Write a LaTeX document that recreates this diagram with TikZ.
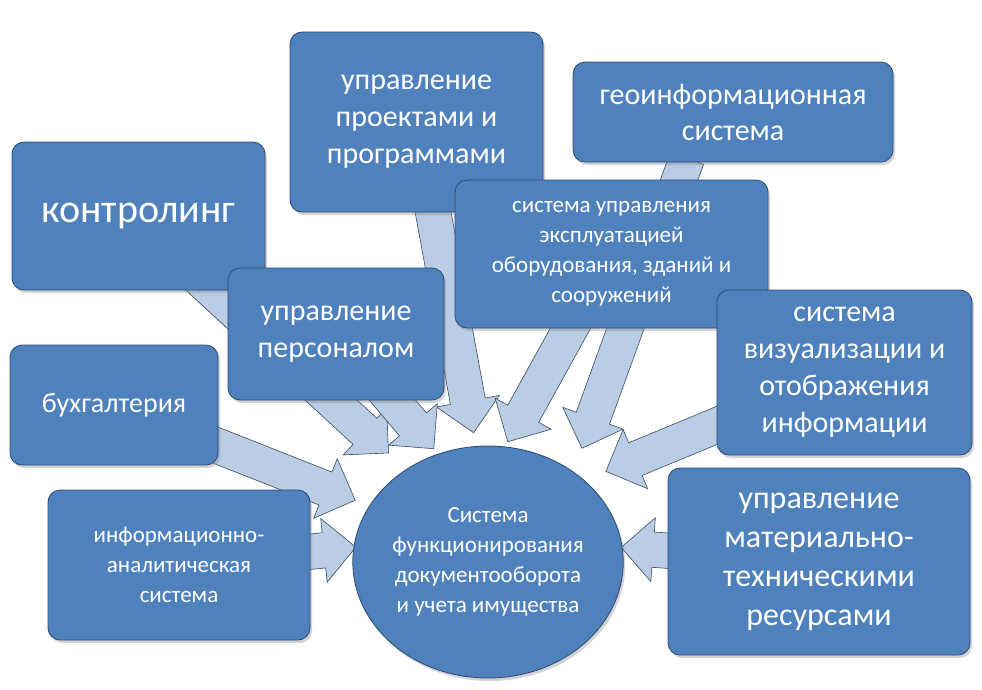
\documentclass[tikz,border=0pt]{standalone}
\usepackage{fontspec}
\setmainfont{Carlito}
\usetikzlibrary{shapes.arrows,shapes.geometric,shadows,calc}
\definecolor{boxblue}{HTML}{4F81BD}
\definecolor{boxedge}{HTML}{2C4A70}
\definecolor{arrfill}{HTML}{B9CDE5}
\definecolor{arredge}{HTML}{3A4A5E}
\pgfdeclarelayer{bg}
\pgfsetlayers{bg,main}
\tikzset{
 box/.style={rounded corners=12pt,draw=boxedge,line width=0.8pt,fill=boxblue,text=white,align=center,drop shadow={shadow xshift=2pt,shadow yshift=-3pt,opacity=0.35},inner sep=0pt},
 blockarr/.style={single arrow,draw=arredge,line width=0.6pt,fill=arrfill,minimum width=64pt,single arrow head extend=14pt,single arrow head indent=0pt,inner xsep=0pt,inner ysep=17pt,shape border uses incircle=false}
}
\newcommand\barrow[3]{\path let \p1=(#1), \p2=(#2), \n1={atan2(\y2-\y1,\x2-\x1)}, \n2={veclen(\x2-\x1,\y2-\y1)} in node[blockarr,minimum height=\n2,rotate=\n1] (#3) at ($(\p1)!0.5!(\p2)$) {};}
\begin{document}
\begin{tikzpicture}[x=1pt,y=-1pt]
\useasboundingbox (0,0) rectangle (982,689);
\node[box,minimum width=253,minimum height=148,font=\fontsize{40}{46}\selectfont] (kon) at (138.5,216) {контролинг};
\node[box,minimum width=253,minimum height=180,font=\fontsize{30}{37}\selectfont] (proj) at (416.5,122) {управление\\проектами и\\программами};
\node[box,minimum width=320,minimum height=100,font=\fontsize{30}{36}\selectfont] (geo) at (733,112) {геоинформационная\\система};
\node[box,minimum width=208,minimum height=120,font=\fontsize{28}{34}\selectfont] (buh) at (114,405) {бухгалтерия};
\node[box,minimum width=262,minimum height=150,font=\fontsize{23}{30}\selectfont] (ias) at (179,565) {информационно-\\аналитическая\\система};
\node[box,minimum width=302,minimum height=187,font=\fontsize{32}{39}\selectfont] (mtr) at (819,561.5) {управление\\материально-\\техническими\\ресурсами};
\node[box,minimum width=313,minimum height=148,font=\fontsize{23}{30}\selectfont] (exp) at (611.5,254) {система управления\\эксплуатацией\\оборудования, зданий и\\сооружений};
\node[box,minimum width=216,minimum height=132,font=\fontsize{30}{37}\selectfont] (per) at (336,334) {управление\\персоналом};
\node[box,minimum width=255,minimum height=165,font=\fontsize{30}{37}\selectfont] (vis) at (844.5,372.5) {система\\визуализации и\\отображения\\информации};
\coordinate (tkon) at (382,447);
\coordinate (tper) at (428,442);
\coordinate (tproj) at (472,424);
\coordinate (texp) at (512,434);
\coordinate (tgeo) at (585,440);
\coordinate (tvis) at (614,468);
\coordinate (tbuh) at (347,497);
\coordinate (tias) at (347,548);
\coordinate (tmtr) at (630,548);
\coordinate (skon) at (190,270);
\coordinate (sgeo) at (690,150);
\begin{pgfonlayer}{bg}
\barrow{skon}{tkon}{akon}
\barrow{proj.center}{tproj}{aproj}
\barrow{sgeo}{tgeo}{ageo}
\barrow{buh.center}{tbuh}{abuh}
\barrow{ias.center}{tias}{aias}
\barrow{mtr.center}{tmtr}{amtr}
\barrow{exp.center}{texp}{aexp}
\barrow{per.center}{tper}{aper}
\barrow{vis.center}{tvis}{avis}
\end{pgfonlayer}
\node[ellipse,draw=boxedge,line width=0.8pt,fill=boxblue,text=white,align=center,minimum width=266,minimum height=232,inner sep=0pt,font=\fontsize{23}{30}\selectfont,drop shadow={shadow xshift=2pt,shadow yshift=-3pt,opacity=0.35}] (core) at (488,562) {Система\\функционирования\\документооборота\\и учета имущества};
\end{tikzpicture}
\end{document}
